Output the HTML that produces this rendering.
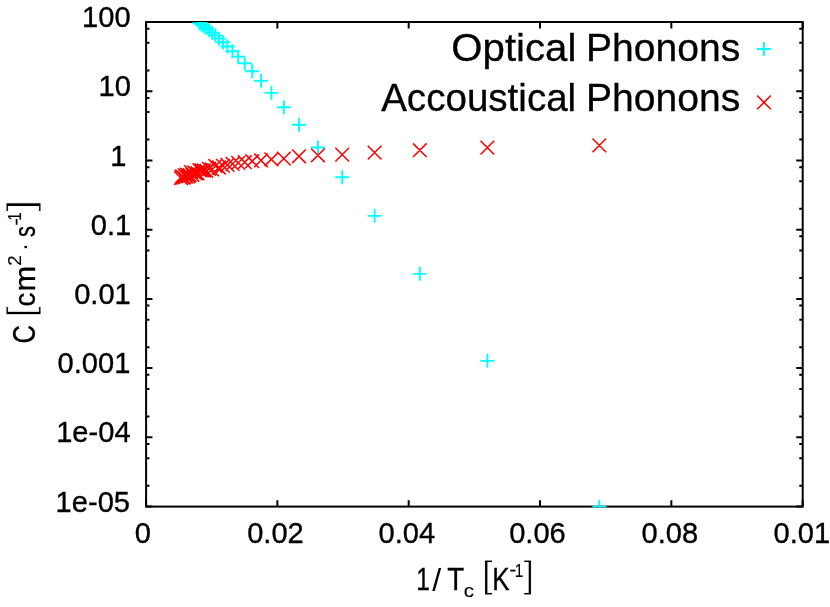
<!DOCTYPE html>
<html><head><meta charset="utf-8"><title>Phonons</title>
<style>html,body{margin:0;padding:0;background:#fff}svg{display:block}text{font-family:"Liberation Sans",sans-serif;fill:#000}</style></head>
<body>
<svg width="830" height="607" viewBox="0 0 830 607">
<rect width="830" height="607" fill="#fff"/>
<defs><clipPath id="cp"><rect x="146.1" y="22.0" width="656.6" height="485.4"/></clipPath></defs>
<g stroke="#000" stroke-width="2.00" fill="none" stroke-linecap="butt">
<rect x="146.1" y="22.0" width="656.6" height="484.6"/>
<path d="M146.05 22.00h6.4 M802.65 22.00h-6.4 M146.05 28.71h3.4 M802.65 28.71h-3.4 M146.05 42.84h3.4 M802.65 42.84h-3.4 M146.05 70.38h3.4 M802.65 70.38h-3.4 M146.05 91.22h6.4 M802.65 91.22h-6.4 M146.05 97.93h3.4 M802.65 97.93h-3.4 M146.05 112.06h3.4 M802.65 112.06h-3.4 M146.05 139.61h3.4 M802.65 139.61h-3.4 M146.05 160.44h6.4 M802.65 160.44h-6.4 M146.05 167.15h3.4 M802.65 167.15h-3.4 M146.05 181.28h3.4 M802.65 181.28h-3.4 M146.05 208.83h3.4 M802.65 208.83h-3.4 M146.05 229.66h6.4 M802.65 229.66h-6.4 M146.05 236.37h3.4 M802.65 236.37h-3.4 M146.05 250.50h3.4 M802.65 250.50h-3.4 M146.05 278.05h3.4 M802.65 278.05h-3.4 M146.05 298.89h6.4 M802.65 298.89h-6.4 M146.05 305.59h3.4 M802.65 305.59h-3.4 M146.05 319.72h3.4 M802.65 319.72h-3.4 M146.05 347.27h3.4 M802.65 347.27h-3.4 M146.05 368.11h6.4 M802.65 368.11h-6.4 M146.05 374.82h3.4 M802.65 374.82h-3.4 M146.05 388.94h3.4 M802.65 388.94h-3.4 M146.05 416.49h3.4 M802.65 416.49h-3.4 M146.05 437.33h6.4 M802.65 437.33h-6.4 M146.05 444.04h3.4 M802.65 444.04h-3.4 M146.05 458.17h3.4 M802.65 458.17h-3.4 M146.05 485.71h3.4 M802.65 485.71h-3.4 M146.05 506.55h6.4 M802.65 506.55h-6.4 M146.05 506.55v-6.4 M146.05 22.00v6.4 M277.37 506.55v-6.4 M277.37 22.00v6.4 M408.69 506.55v-6.4 M408.69 22.00v6.4 M540.01 506.55v-6.4 M540.01 22.00v6.4 M671.33 506.55v-6.4 M671.33 22.00v6.4 M802.65 506.55v-6.4 M802.65 22.00v6.4"/>
</g>
<g clip-path="url(#cp)"><path stroke="#00ffff" stroke-width="1.9" fill="none" d="M592.33 506.80h14.0 M599.33 499.80v14.0 M480.38 360.85h14.0 M487.38 353.85v14.0 M412.82 273.85h14.0 M419.82 266.85v14.0 M367.62 215.85h14.0 M374.62 208.85v14.0 M335.25 177.25h14.0 M342.25 170.25v14.0 M310.92 147.45h14.0 M317.92 140.45v14.0 M291.98 124.75h14.0 M298.98 117.75v14.0 M276.81 107.25h14.0 M283.81 100.25v14.0 M264.39 92.85h14.0 M271.39 85.85v14.0 M254.03 80.85h14.0 M261.03 73.85v14.0 M245.25 71.25h14.0 M252.25 64.25v14.0 M237.73 63.25h14.0 M244.73 56.25v14.0 M231.21 56.65h14.0 M238.21 49.65v14.0 M225.50 51.25h14.0 M232.50 44.25v14.0 M220.46 46.43h14.0 M227.46 39.43v14.0 M215.98 42.27h14.0 M222.98 35.27v14.0 M211.97 38.67h14.0 M218.97 31.67v14.0 M208.36 35.53h14.0 M215.36 28.53v14.0 M205.09 32.78h14.0 M212.09 25.78v14.0 M202.12 30.36h14.0 M209.12 23.36v14.0 M199.40 28.24h14.0 M206.40 21.24v14.0 M196.92 26.37h14.0 M203.92 19.37v14.0 M194.63 24.71h14.0 M201.63 17.71v14.0 M192.52 23.25h14.0 M199.52 16.25v14.0"/></g>
<path stroke="#ff0000" stroke-width="1.55" fill="none" d="M592.48 138.55l13.7 13.7 M592.48 152.25l13.7 -13.7 M480.53 140.75l13.7 13.7 M480.53 154.45l13.7 -13.7 M412.97 143.35l13.7 13.7 M412.97 157.05l13.7 -13.7 M367.77 145.75l13.7 13.7 M367.77 159.45l13.7 -13.7 M335.40 147.75l13.7 13.7 M335.40 161.45l13.7 -13.7 M311.07 148.45l13.7 13.7 M311.07 162.15l13.7 -13.7 M292.13 149.45l13.7 13.7 M292.13 163.15l13.7 -13.7 M276.96 151.75l13.7 13.7 M276.96 165.45l13.7 -13.7 M264.54 152.45l13.7 13.7 M264.54 166.15l13.7 -13.7 M254.18 153.55l13.7 13.7 M254.18 167.25l13.7 -13.7 M245.40 154.35l13.7 13.7 M245.40 168.05l13.7 -13.7 M237.88 155.35l13.7 13.7 M237.88 169.05l13.7 -13.7 M231.36 156.05l13.7 13.7 M231.36 169.75l13.7 -13.7 M225.65 157.05l13.7 13.7 M225.65 170.75l13.7 -13.7 M220.61 158.05l13.7 13.7 M220.61 171.75l13.7 -13.7 M216.13 159.05l13.7 13.7 M216.13 172.75l13.7 -13.7 M212.12 160.66l13.7 13.7 M212.12 174.36l13.7 -13.7 M208.51 159.12l13.7 13.7 M208.51 172.82l13.7 -13.7 M205.24 162.55l13.7 13.7 M205.24 176.25l13.7 -13.7 M202.27 162.04l13.7 13.7 M202.27 175.74l13.7 -13.7 M199.55 164.10l13.7 13.7 M199.55 177.80l13.7 -13.7 M197.07 163.64l13.7 13.7 M197.07 177.34l13.7 -13.7 M194.78 163.54l13.7 13.7 M194.78 177.24l13.7 -13.7 M192.67 163.33l13.7 13.7 M192.67 177.03l13.7 -13.7 M190.71 166.59l13.7 13.7 M190.71 180.29l13.7 -13.7 M188.89 166.53l13.7 13.7 M188.89 180.23l13.7 -13.7 M187.20 165.56l13.7 13.7 M187.20 179.26l13.7 -13.7 M185.62 167.96l13.7 13.7 M185.62 181.66l13.7 -13.7 M184.14 165.25l13.7 13.7 M184.14 178.95l13.7 -13.7 M182.76 168.42l13.7 13.7 M182.76 182.12l13.7 -13.7 M181.46 169.58l13.7 13.7 M181.46 183.28l13.7 -13.7 M180.23 167.83l13.7 13.7 M180.23 181.53l13.7 -13.7 M179.08 169.96l13.7 13.7 M179.08 183.66l13.7 -13.7 M177.99 168.18l13.7 13.7 M177.99 181.88l13.7 -13.7 M176.95 170.69l13.7 13.7 M176.95 184.39l13.7 -13.7 M175.98 170.39l13.7 13.7 M175.98 184.09l13.7 -13.7 M175.05 169.67l13.7 13.7 M175.05 183.37l13.7 -13.7 M174.17 171.25l13.7 13.7 M174.17 184.95l13.7 -13.7"/>
<path stroke="#00ffff" stroke-width="1.9" fill="none" d="M756.9 49h14 M763.9 42v14"/>
<path stroke="#ff0000" stroke-width="1.55" fill="none" d="M757.15 95.55l13.7 13.7 M757.15 109.25l13.7 -13.7"/>
<text transform="translate(82.02 27.10) scale(0.9700 1)" font-size="30.00" stroke="#000" stroke-width="0.35">100</text>
<text transform="translate(98.51 96.32) scale(0.9700 1)" font-size="30.00" stroke="#000" stroke-width="0.35">10</text>
<text transform="translate(110.19 165.54) scale(0.9700 1)" font-size="30.00" stroke="#000" stroke-width="0.35">1</text>
<text transform="translate(90.76 234.76) scale(0.9700 1)" font-size="30.00" stroke="#000" stroke-width="0.35">0.1</text>
<text transform="translate(74.16 303.99) scale(0.9700 1)" font-size="30.00" stroke="#000" stroke-width="0.35">0.01</text>
<text transform="translate(57.56 373.21) scale(0.9700 1)" font-size="30.00" stroke="#000" stroke-width="0.35">0.001</text>
<text transform="translate(56.16 442.43) scale(0.9700 1)" font-size="30.00" stroke="#000" stroke-width="0.35">1e-04</text>
<text transform="translate(55.60 511.65) scale(0.9700 1)" font-size="30.00" stroke="#000" stroke-width="0.35">1e-05</text>
<text transform="translate(134.76 542.80) scale(0.9700 1)" font-size="30.00" stroke="#000" stroke-width="0.35">0</text>
<text transform="translate(247.16 542.80) scale(0.9700 1)" font-size="30.00" stroke="#000" stroke-width="0.35">0.02</text>
<text transform="translate(378.56 542.80) scale(0.9700 1)" font-size="30.00" stroke="#000" stroke-width="0.35">0.04</text>
<text transform="translate(509.16 542.80) scale(0.9700 1)" font-size="30.00" stroke="#000" stroke-width="0.35">0.06</text>
<text transform="translate(641.56 542.80) scale(0.9700 1)" font-size="30.00" stroke="#000" stroke-width="0.35">0.08</text>
<text transform="translate(773.56 542.80) scale(0.9700 1)" font-size="30.00" stroke="#000" stroke-width="0.35">0.01</text>
<text transform="translate(416.29 590.00) scale(0.8000 1)" font-size="30.60" stroke="#000" stroke-width="0.35">1</text>
<text transform="translate(432.20 590.50) scale(1.0500 1)" font-size="30.60">/</text>
<text transform="translate(447.32 590.00) scale(0.9030 1)" font-size="30.60" stroke="#000" stroke-width="0.35">T</text>
<text transform="translate(463.65 596.80) scale(1.0716 1)" font-size="19.20" stroke="#000" stroke-width="0.15">c</text>
<text transform="translate(481.69 587.20) scale(1.0743 1)" font-size="37.00" stroke="#fff" stroke-width="0.85">[</text>
<text transform="translate(492.30 590.00) scale(0.8480 1)" font-size="30.60" stroke="#000" stroke-width="0.35">K</text>
<text transform="translate(509.47 576.40) scale(1.0521 1)" font-size="19.20" stroke="#000" stroke-width="0.15">-</text>
<text transform="translate(514.76 577.40) scale(0.8000 1)" font-size="19.20" stroke="#000" stroke-width="0.15">1</text>
<text transform="translate(523.38 587.20) scale(1.0349 1)" font-size="37.00" stroke="#fff" stroke-width="0.85">]</text>
<text transform="translate(451.34 61.40) scale(1.0143 1)" font-size="39.60" stroke="#000" stroke-width="0.30">Optical</text>
<text transform="translate(586.03 61.40) scale(0.9863 1)" font-size="39.60" stroke="#000" stroke-width="0.30">Phonons</text>
<text transform="translate(381.15 111.40) scale(0.9741 1)" font-size="39.60" stroke="#000" stroke-width="0.30">Accoustical</text>
<text transform="translate(586.03 111.40) scale(0.9863 1)" font-size="39.60" stroke="#000" stroke-width="0.30">Phonons</text>
<g transform="rotate(-90)">
<text transform="translate(-343.50 35.20) scale(0.7997 1)" font-size="32.00" stroke="#000" stroke-width="0.35">C</text>
<text transform="translate(-317.65 33.20) scale(1.1045 1)" font-size="37.80" stroke="#fff" stroke-width="0.85">[</text>
<text transform="translate(-306.62 35.20) scale(0.9157 1)" font-size="30.00" stroke="#000" stroke-width="0.35">c</text>
<text transform="translate(-291.53 35.20) scale(1.0284 1)" font-size="30.00" stroke="#000" stroke-width="0.35">m</text>
<text transform="translate(-265.75 21.20) scale(0.9681 1)" font-size="19.20" stroke="#000" stroke-width="0.15">2</text>
<text transform="translate(-250.96 32.10) scale(1.0000 1)" font-size="24.00">·</text>
<text transform="translate(-237.07 35.20) scale(0.7311 1)" font-size="30.00" stroke="#000" stroke-width="0.35">s</text>
<text transform="translate(-225.66 21.80) scale(1.2188 1)" font-size="19.20" stroke="#000" stroke-width="0.15">-</text>
<text transform="translate(-220.64 21.20) scale(0.8000 1)" font-size="19.20" stroke="#000" stroke-width="0.15">1</text>
<text transform="translate(-211.74 33.20) scale(1.1421 1)" font-size="37.80" stroke="#fff" stroke-width="0.85">]</text>
</g>
</svg></body></html>
